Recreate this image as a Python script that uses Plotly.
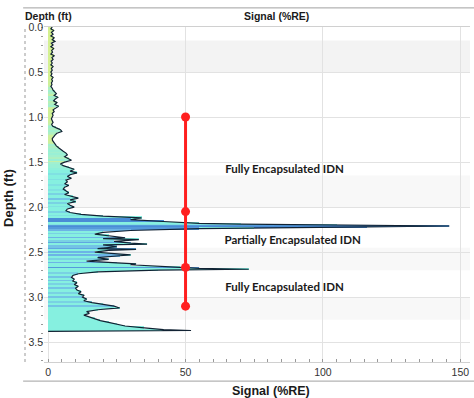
import numpy as np
import plotly.graph_objects as go

# ---------------- data ----------------
depth_ft = [
    0.00, 0.02, 0.04, 0.06, 0.08, 0.10, 0.12, 0.14, 0.16, 0.18,
    0.20, 0.22, 0.24, 0.26, 0.28, 0.30, 0.32, 0.34, 0.36, 0.38,
    0.40, 0.42, 0.44, 0.46, 0.48, 0.50, 0.52, 0.54, 0.56, 0.58,
    0.60, 0.62, 0.64, 0.66, 0.68, 0.70, 0.72, 0.74, 0.76, 0.78,
    0.80, 0.82, 0.84, 0.86, 0.88, 0.90, 0.92, 0.94, 0.96, 0.98,
    1.00, 1.02, 1.04, 1.06, 1.08, 1.10, 1.12, 1.14, 1.16, 1.18,
    1.20, 1.22, 1.24, 1.26, 1.28, 1.30, 1.32, 1.34, 1.36, 1.38,
    1.40, 1.42, 1.44, 1.46, 1.48, 1.50, 1.52, 1.54, 1.56, 1.58,
    1.60, 1.62, 1.64, 1.66, 1.68, 1.70, 1.72, 1.74, 1.76, 1.78,
    1.80, 1.82, 1.84, 1.86, 1.88, 1.90, 1.92, 1.94, 1.96, 1.98,
    2.00, 2.02, 2.04, 2.06, 2.08, 2.10, 2.12, 2.14, 2.16, 2.18,
    2.19, 2.20, 2.21, 2.22, 2.23, 2.24, 2.26, 2.28, 2.30, 2.32,
    2.34, 2.35, 2.36, 2.38, 2.40, 2.41, 2.42, 2.44, 2.46, 2.47,
    2.48, 2.50, 2.52, 2.53, 2.54, 2.56, 2.58, 2.60, 2.62, 2.63,
    2.64, 2.66, 2.67, 2.68, 2.69, 2.70, 2.72, 2.74, 2.76, 2.78,
    2.80, 2.82, 2.84, 2.86, 2.88, 2.90, 2.92, 2.94, 2.96, 2.98,
    3.00, 3.02, 3.04, 3.06, 3.08, 3.10, 3.12, 3.14, 3.16, 3.18,
    3.20, 3.22, 3.24, 3.26, 3.28, 3.30, 3.32, 3.34, 3.36, 3.37,
    3.38,
]
signal_re = [
    1.5, 1.0, 2.0, 1.2, 1.8, 1.0, 2.2, 1.5, 2.5, 1.2,
    1.8, 1.0, 2.0, 1.3, 1.6, 1.0, 2.2, 1.4, 1.8, 1.1,
    1.5, 1.0, 1.8, 1.2, 1.5, 1.0, 1.4, 1.0, 1.8, 1.3,
    1.6, 1.2, 1.4, 1.0, 1.5, 1.8, 2.4, 3.0, 2.2, 3.5,
    2.6, 2.0, 3.2, 2.4, 3.8, 2.5, 1.8, 2.2, 1.5, 1.8,
    1.4, 1.2, 1.5, 1.8, 1.3, 1.6, 3.0, 4.5, 5.0, 3.2,
    2.5, 1.8, 1.5, 1.6, 2.0, 2.5, 3.0, 3.8, 4.5, 5.5,
    6.5, 7.0, 6.0, 7.5, 8.5, 6.0, 4.5, 5.5, 7.5, 9.5,
    8.0, 10.5, 8.0, 7.0, 8.5, 6.5, 7.0, 6.0, 7.5, 6.0,
    5.5, 6.5, 7.5, 6.0, 9.0, 11.0, 8.0, 10.0, 7.0, 8.0,
    9.5, 7.0, 6.5, 8.0, 12.0, 20.0, 34.0, 30.0, 42.0, 55.0,
    70.0, 105.0, 146.0, 116.0, 75.0, 55.0, 30.0, 20.0, 17.0, 22.0,
    28.0, 20.0, 33.0, 24.0, 30.0, 36.0, 20.0, 25.0, 18.0, 32.0,
    22.0, 17.0, 24.0, 30.0, 26.0, 18.0, 22.0, 14.0, 25.0, 32.0,
    30.0, 40.0, 48.0, 55.0, 73.0, 40.0, 18.0, 11.0, 9.0, 8.5,
    9.5, 9.0, 10.5, 9.5, 11.0, 10.0, 10.5, 12.0, 11.0, 13.0,
    12.5, 14.0, 13.0, 16.0, 20.0, 24.0, 26.0, 18.0, 14.0, 15.0,
    13.0, 15.0, 17.0, 19.0, 22.0, 25.0, 28.0, 35.0, 42.0, 52.0,
    0.0,
]
# secondary attribute shown as the colour of each depth slice (0 = yellow-green, 1 = deep blue)
slice_tone = [
    0.05, 0.05, 0.10, 0.05, 0.05, 0.10, 0.05, 0.05, 0.10, 0.05,
    0.05, 0.10, 0.05, 0.05, 0.10, 0.05, 0.05, 0.10, 0.05, 0.05,
    0.05, 0.10, 0.05, 0.05, 0.05, 0.10, 0.05, 0.05, 0.10, 0.05,
    0.10, 0.20, 0.10, 0.30, 0.40, 0.35, 0.45, 0.40, 0.30, 0.45,
    0.40, 0.45, 0.35, 0.40, 0.45, 0.30, 0.15, 0.10, 0.15, 0.10,
    0.10, 0.15, 0.10, 0.20, 0.30, 0.40, 0.45, 0.40, 0.45, 0.40,
    0.35, 0.20, 0.15, 0.10, 0.20, 0.30, 0.45, 0.40, 0.45, 0.50,
    0.45, 0.50, 0.45, 0.40, 0.50, 0.30, 0.45, 0.50, 0.50, 0.55,
    0.60, 0.60, 0.65, 0.60, 0.60, 0.65, 0.60, 0.60, 0.65, 0.60,
    0.60, 0.65, 0.60, 0.70, 0.60, 0.60, 0.75, 0.60, 0.70, 0.60,
    0.65, 0.60, 0.60, 0.70, 0.60, 0.65, 0.60, 0.95, 0.95, 0.60,
    0.60, 0.65, 0.90, 0.95, 0.60, 0.90, 0.80, 0.60, 0.70, 0.60,
    0.80, 0.60, 0.60, 0.70, 0.85, 0.60, 0.60, 0.75, 0.60, 0.85,
    0.60, 0.80, 0.60, 0.60, 0.80, 0.60, 0.70, 0.60, 0.80, 0.60,
    0.60, 0.75, 0.60, 0.90, 0.60, 0.60, 0.60, 0.70, 0.60, 0.75,
    0.60, 0.75, 0.60, 0.70, 0.60, 0.75, 0.60, 0.60, 0.70, 0.60,
    0.75, 0.60, 0.60, 0.70, 0.60, 0.75, 0.60, 0.60, 0.60, 0.60,
    0.60, 0.60, 0.60, 0.60, 0.60, 0.60, 0.60, 0.60, 0.60, 0.60,
    0.60,
]

marker_depths = [1.0, 2.05, 2.67, 3.1]
marker_signal = [50, 50, 50, 50]

zone_labels = ["Fully Encapsulated IDN", "Partially Encapsulated IDN", "Fully Encapsulated IDN"]
zone_label_depth = [1.59, 2.38, 2.90]
zone_label_signal = [86, 89, 86]

x_tick_vals = [0, 50, 100, 150]
y_tick_vals = [0.0, 0.5, 1.0, 1.5, 2.0, 2.5, 3.0, 3.5]

# ---------------- figure ----------------
d = np.array(depth_ft)
widths = np.append(np.diff(d), 0.02)
widths = np.clip(widths, 0.01, 0.03) * 1.05

fig = go.Figure()

fig.add_trace(go.Bar(
    x=signal_re, y=depth_ft, orientation="h", width=widths,
    marker=dict(
        color=slice_tone, cmin=0, cmax=1,
        colorscale=[[0.0, "#d8f08a"], [0.3, "#c4f0a8"], [0.45, "#a2f0cf"],
                    [0.6, "#86f0e0"], [0.8, "#6cb4e6"], [1.0, "#3d7fd0"]],
        line=dict(width=0),
    ),
    hoverinfo="skip", showlegend=False,
))

fig.add_trace(go.Scatter(
    x=signal_re, y=depth_ft, mode="lines",
    line=dict(color="#112233", width=1.2),
    hoverinfo="skip", showlegend=False,
))

fig.add_trace(go.Scatter(
    x=marker_signal, y=marker_depths, mode="lines+markers",
    line=dict(color="#ff1f1f", width=3),
    marker=dict(color="#ff1f1f", size=9),
    hoverinfo="skip", showlegend=False,
))

fig.add_trace(go.Scatter(
    x=zone_label_signal, y=zone_label_depth, mode="text",
    text=[f"<b>{t}</b>" for t in zone_labels],
    textfont=dict(family="Lato, Open Sans, sans-serif", size=11.5, color="#1a1a1a"),
    hoverinfo="skip", showlegend=False,
))

# faint background bands
bands = [(0.15, 0.5, "#f3f3f3"), (1.65, 2.0, "#f8f8f8"), (2.45, 2.7, "#f8f8f8"), (3.0, 3.25, "#f8f8f8")]
shapes = []
for a, b, c in bands:
    shapes.append(dict(type="rect", xref="paper", x0=0, x1=1, yref="y", y0=a, y1=b,
                       fillcolor=c, line=dict(width=0), layer="below"))
# header / footer separator lines and dotted depth-axis line
shapes.append(dict(type="line", xref="paper", yref="paper", x0=-0.049, x1=1.02, y0=1.057, y1=1.057,
                   line=dict(color="#a0a0a0", width=1)))
shapes.append(dict(type="line", xref="paper", yref="paper", x0=-0.049, x1=1.02, y0=-0.057, y1=-0.057,
                   line=dict(color="#a0a0a0", width=1)))
shapes.append(dict(type="line", xref="paper", yref="paper", x0=-0.0446, x1=-0.0446, y0=0, y1=1,
                   line=dict(color="#999999", width=1, dash="dot")))

bold_font = dict(family="Liberation Sans, Arial, sans-serif", color="#1a1a1a")
annotations = [
    dict(text="<b>Depth (ft)</b>", xref="paper", yref="paper", x=-0.049, y=1.033,
         xanchor="left", yanchor="middle", showarrow=False, font=dict(size=10.5, **bold_font)),
    dict(text="<b>Signal (%RE)</b>", xref="paper", yref="paper", x=0.545, y=1.033,
         xanchor="center", yanchor="middle", showarrow=False, font=dict(size=10.5, **bold_font)),
    dict(text="<b>Signal (%RE)</b>", xref="paper", yref="paper", x=0.533, y=-0.086,
         xanchor="center", yanchor="middle", showarrow=False, font=dict(size=12.5, **bold_font)),
    dict(text="<b>Depth (ft)</b>", xref="paper", yref="paper", x=-0.082, y=0.49,
         xanchor="center", yanchor="middle", textangle=-90, showarrow=False,
         font=dict(size=13, **bold_font)),
]

fig.update_layout(
    width=474, height=398,
    margin=dict(l=44, r=4, t=27, b=36, autoexpand=False),
    paper_bgcolor="white", plot_bgcolor="white",
    bargap=0, barmode="overlay",
    shapes=shapes, annotations=annotations,
    xaxis=dict(range=[-1.5, 153.5], tickvals=x_tick_vals, showgrid=True, automargin=False,
               gridcolor="#e2e2e2", gridwidth=1, zeroline=False,
               ticks="", tickfont=dict(family="Liberation Sans, Arial", size=10.5, color="#333"),
               minor=dict(dtick=5, tick0=0, ticks="inside", ticklen=3, tickcolor="#999", showgrid=False),
               showline=True, linecolor="#d0d0d0", mirror=True),
    yaxis=dict(range=[3.72, 0], tickvals=y_tick_vals, ticktext=[f"{v:.1f}" for v in y_tick_vals],
               showgrid=True, gridcolor="#e2e2e2", gridwidth=1, zeroline=False, automargin=False,
               ticks="", tickfont=dict(family="Liberation Sans, Arial", size=10.5, color="#333"),
               minor=dict(dtick=0.1, ticks="outside", ticklen=2, tickcolor="#999", showgrid=False),
               showline=False),
)

fig.write_html("out.html", config={"displayModeBar": False},
               post_script="document.body.style.margin='0px';")
